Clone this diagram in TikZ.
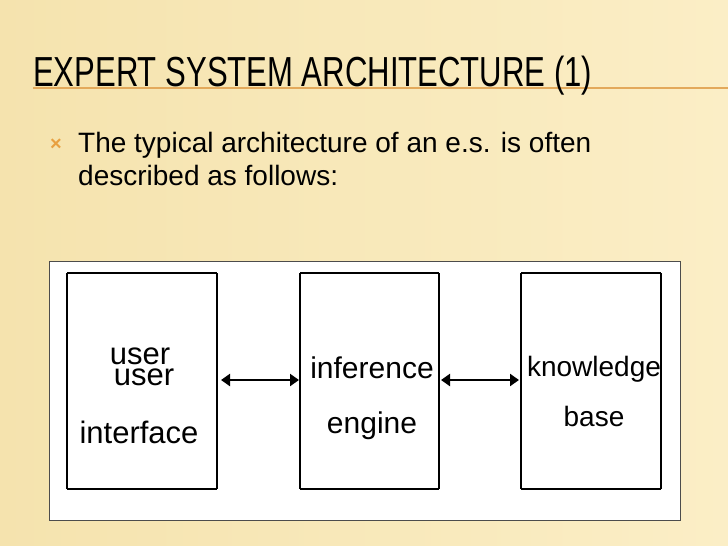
\documentclass[tikz,border=0pt]{standalone}
\usepackage{fontspec}
\setmainfont{Liberation Sans}
\usetikzlibrary{arrows.meta}
\definecolor{bg}{HTML}{FBEEC6}
\definecolor{bg2}{HTML}{F5E3AE}
\definecolor{rule}{HTML}{E3A95B}
\definecolor{bul}{HTML}{E8A040}
\tikzset{
  px/.style={x=1pt,y=-1pt},
  boxedge/.style={line width=2.4pt},
  boxside/.style={line width=1.1pt},
  lbl/.style={font=\fontsize{31}{36}\selectfont, inner sep=0pt, anchor=base},
  conn/.style={line width=2.2pt, {Triangle[length=9pt,width=12pt]}-{Triangle[length=9pt,width=12pt]}}
}
\begin{document}
\begin{tikzpicture}[px]
\useasboundingbox (0,0) rectangle (728,546);
\shade[left color=bg2, right color=bg] (0,0) rectangle (728,546);
\draw[rule, line width=1.2pt] (33,88) -- (728,88);
\node[anchor=base west, inner sep=0pt, font=\fontsize{42}{46}\selectfont, xscale=0.74] (title) at (33,86) {EXPERT SYSTEM ARCHITECTURE (1)};
\node[anchor=base west, inner sep=0pt, text=bul, font=\bfseries\fontsize{20}{22}\selectfont] (bullet) at (50,150) {\char"00D7};
\node[anchor=base west, inner sep=0pt, font=\fontsize{28}{32}\selectfont] (l1) at (78,152) {The typical architecture of an e.s. is often};
\node[anchor=base west, inner sep=0pt, font=\fontsize{28}{32}\selectfont] (l2) at (78,185) {described as follows:};
\draw[fill=white, draw=black!70, line width=0.6pt] (49,261) rectangle (680,520);
\foreach \n/\a/\b in {ui/67/217, ie/300/439, kb/521/661}{
  \coordinate (\n-nw) at (\a,273); \coordinate (\n-se) at (\b,489);
  \draw[boxside] (\a,273) -- (\a,489) (\b,273) -- (\b,489);
  \draw[boxedge] (\a,273) -- (\b,273) (\a,489) -- (\b,489);
}
\node[lbl] (u1) at (140,364) {user};
\node[lbl] (u2) at (144,385) {user};
\node[lbl] (ui) at (139,443) {interface};
\node[lbl, font=\fontsize{30}{34}\selectfont] (i1) at (372,378) {inference};
\node[lbl, font=\fontsize{30}{34}\selectfont] (i2) at (372,433) {engine};
\node[lbl, font=\fontsize{28}{32}\selectfont] (k1) at (594,376) {knowledge};
\node[lbl, font=\fontsize{28}{32}\selectfont] (k2) at (594,426) {base};
\coordinate (a1) at (221,380); \coordinate (a2) at (299,380);
\coordinate (b1) at (441,380); \coordinate (b2) at (519,380);
\draw[conn] (a1) -- (a2);
\draw[conn] (b1) -- (b2);
\end{tikzpicture}
\end{document}
